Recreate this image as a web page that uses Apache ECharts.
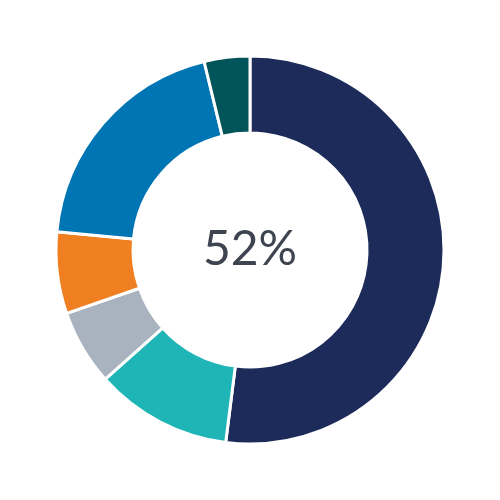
<!DOCTYPE html>
<html>
<head>
<meta charset="utf-8">
<script src="https://cdn.jsdelivr.net/npm/echarts@6/dist/echarts.min.js"></script>
<style>
html, body { margin: 0; padding: 0; background: #fff; }
#chart { width: 500px; height: 500px; }
</style>
</head>
<body>
<div id="chart"></div>
<script>
// slice shares, clockwise from the top
var names = ['A', 'B', 'C', 'D', 'E', 'F'];
var values = [52, 11.4, 6.3, 6.8, 19.7, 3.8];
var colors = ['#1c2b5a', '#1fb5b7', '#a9b3bf', '#f07f22', '#0075b4', '#01545a'];
var centerLabel = '52%';

var myChart = echarts.init(document.getElementById('chart'));
myChart.setOption({
    animation: false,
    title: {
        text: centerLabel,
        left: 'center',
        top: 'middle',
        textStyle: {
            fontFamily: 'Lato',
            fontWeight: 'normal',
            fontSize: 48,
            color: '#3f4550'
        }
    },
    series: [{
        type: 'pie',
        center: [250, 250],
        radius: [117, 194],
        startAngle: 90,
        clockwise: true,
        label: { show: false },
        labelLine: { show: false },
        itemStyle: { borderColor: '#fff', borderWidth: 3 },
        data: names.map(function (n, i) {
            return { name: n, value: values[i], itemStyle: { color: colors[i] } };
        })
    }]
});
</script>
</body>
</html>
